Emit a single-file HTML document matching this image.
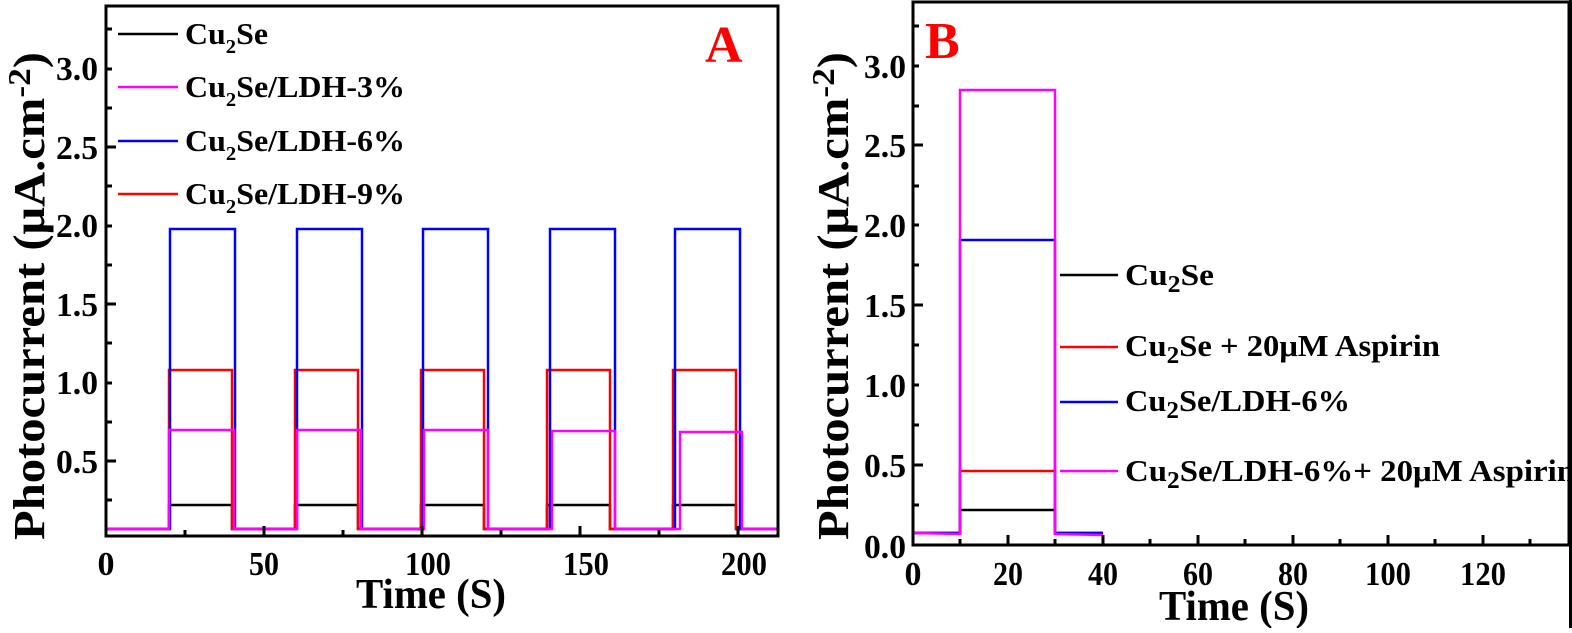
<!DOCTYPE html>
<html><head><meta charset="utf-8"><style>
html,body{margin:0;padding:0;background:#fff;}
svg text{font-family:"Liberation Serif","Times New Roman","DejaVu Serif",serif;font-weight:bold;}
</style></head><body>
<svg width="1572" height="628" viewBox="0 0 1572 628" xmlns="http://www.w3.org/2000/svg" font-family="Liberation Serif, DejaVu Serif, serif" font-weight="bold">
<!-- Panel A -->
<g fill="none" stroke-width="2.5">
<polyline stroke="#000" points="106,529 169,529 169,505 232,505 232,529 295,529 295,505 358,505 358,529 421,529 421,505 484,505 484,529 547,529 547,505 610,505 610,529 673,529 673,505 736,505 736,529 778,529"/>
<polyline stroke="#ff0000" points="106,529 169,529 169,370 232,370 232,529 295,529 295,370 358,370 358,529 421,529 421,370 484,370 484,529 547,529 547,370 610,370 610,529 673,529 673,370 736,370 736,529 778,529"/>
<polyline stroke="#0000ff" points="106,529 170,529 170,229 235,229 235,529 297,529 297,229 362,229 362,529 423,529 423,229 488,229 488,529 550,529 550,229 615,229 615,529 675,529 675,229 740,229 740,529 778,529"/>
<polyline stroke="#ff00ff" points="106,529 169,529 169,430 234,430 234,529 297,529 297,430 361,430 361,529 424,529 424,430 488,430 488,529 552,529 552,431 615,431 615,529 680,529 680,432 742,432 742,529 778,529"/>
</g>
<rect x="106" y="6" width="672" height="530" fill="none" stroke="#000" stroke-width="3"/>
<g stroke="#000" stroke-width="3">
<line x1="106" y1="461" x2="116" y2="461"/><line x1="106" y1="383" x2="112" y2="383"/><line x1="106" y1="304" x2="116" y2="304"/><line x1="106" y1="226" x2="112" y2="226"/><line x1="106" y1="147" x2="116" y2="147"/><line x1="106" y1="69" x2="112" y2="69"/><line x1="106" y1="500" x2="112" y2="500"/><line x1="106" y1="422" x2="112" y2="422"/><line x1="106" y1="343" x2="112" y2="343"/><line x1="106" y1="265" x2="112" y2="265"/><line x1="106" y1="186" x2="112" y2="186"/><line x1="106" y1="108" x2="112" y2="108"/><line x1="106" y1="29" x2="112" y2="29"/>
<line x1="185" y1="536" x2="185" y2="530"/><line x1="264" y1="536" x2="264" y2="526"/><line x1="343" y1="536" x2="343" y2="530"/><line x1="422" y1="536" x2="422" y2="526"/><line x1="501" y1="536" x2="501" y2="530"/><line x1="580" y1="536" x2="580" y2="526"/><line x1="659" y1="536" x2="659" y2="530"/><line x1="738" y1="536" x2="738" y2="526"/>
</g>
<g font-size="34" text-anchor="end" fill="#000">
<text x="98" y="473" textLength="42" lengthAdjust="spacingAndGlyphs">0.5</text><text x="98" y="394" textLength="42" lengthAdjust="spacingAndGlyphs">1.0</text><text x="98" y="316" textLength="42" lengthAdjust="spacingAndGlyphs">1.5</text><text x="98" y="237" textLength="42" lengthAdjust="spacingAndGlyphs">2.0</text><text x="98" y="159" textLength="42" lengthAdjust="spacingAndGlyphs">2.5</text><text x="98" y="80" textLength="42" lengthAdjust="spacingAndGlyphs">3.0</text>
</g>
<g font-size="34" text-anchor="middle" fill="#000">
<text x="106" y="575">0</text><text x="264" y="575" textLength="30" lengthAdjust="spacingAndGlyphs">50</text><text x="428" y="575" textLength="46" lengthAdjust="spacingAndGlyphs">100</text><text x="586" y="575" textLength="46" lengthAdjust="spacingAndGlyphs">150</text><text x="744" y="575" textLength="46" lengthAdjust="spacingAndGlyphs">200</text>
</g>
<text x="356" y="608" font-size="42" textLength="150" lengthAdjust="spacingAndGlyphs">Time (S)</text>
<text transform="translate(44,540) rotate(-90)" font-size="44" textLength="488" lengthAdjust="spacingAndGlyphs">Photocurrent (μA.cm<tspan dy="-14" font-size="32">-2</tspan><tspan dy="14">)</tspan></text>
<text x="705" y="62" font-size="52" fill="#ff0000">A</text>
<g stroke-width="2.5">
<line x1="118" y1="34" x2="178" y2="34" stroke="#000"/>
<line x1="118" y1="87" x2="178" y2="87" stroke="#ff00ff"/>
<line x1="118" y1="141" x2="178" y2="141" stroke="#0000ff"/>
<line x1="118" y1="194" x2="178" y2="194" stroke="#ff0000"/>
</g>
<g font-size="31" fill="#000">
<text x="185" y="44" textLength="83" lengthAdjust="spacingAndGlyphs">Cu<tspan font-size="20" dy="9">2</tspan><tspan dy="-9">Se</tspan></text>
<text x="185" y="97" textLength="220" lengthAdjust="spacingAndGlyphs">Cu<tspan font-size="20" dy="9">2</tspan><tspan dy="-9">Se/LDH-3%</tspan></text>
<text x="185" y="151" textLength="220" lengthAdjust="spacingAndGlyphs">Cu<tspan font-size="20" dy="9">2</tspan><tspan dy="-9">Se/LDH-6%</tspan></text>
<text x="185" y="204" textLength="220" lengthAdjust="spacingAndGlyphs">Cu<tspan font-size="20" dy="9">2</tspan><tspan dy="-9">Se/LDH-9%</tspan></text>
</g>
<!-- Panel B -->
<g fill="none" stroke-width="2.5">
<polyline stroke="#000" points="913,533 960,533 960,510 1055,510 1055,533 1103,533"/>
<polyline stroke="#ff0000" points="913,533 960,533 960,471 1055,471 1055,533 1103,533"/>
<polyline stroke="#0000ff" points="913,533 960,533 960,240 1055,240 1055,533 1103,533"/>
<polyline stroke="#ff00ff" points="913,533 960,534 960,90 1055,90 1055,534 1103,535"/>
</g>
<rect x="913" y="2" width="656" height="543" fill="none" stroke="#000" stroke-width="3"/>
<g stroke="#000" stroke-width="3">
<line x1="913" y1="465" x2="923" y2="465"/><line x1="913" y1="385" x2="919" y2="385"/><line x1="913" y1="305" x2="923" y2="305"/><line x1="913" y1="225" x2="919" y2="225"/><line x1="913" y1="145" x2="923" y2="145"/><line x1="913" y1="66" x2="919" y2="66"/><line x1="913" y1="505" x2="919" y2="505"/><line x1="913" y1="425" x2="919" y2="425"/><line x1="913" y1="345" x2="919" y2="345"/><line x1="913" y1="265" x2="919" y2="265"/><line x1="913" y1="186" x2="919" y2="186"/><line x1="913" y1="106" x2="919" y2="106"/><line x1="913" y1="26" x2="919" y2="26"/>
<line x1="960" y1="545" x2="960" y2="539"/><line x1="1008" y1="545" x2="1008" y2="535"/><line x1="1055" y1="545" x2="1055" y2="539"/><line x1="1103" y1="545" x2="1103" y2="535"/><line x1="1150" y1="545" x2="1150" y2="539"/><line x1="1198" y1="545" x2="1198" y2="535"/><line x1="1245" y1="545" x2="1245" y2="539"/><line x1="1293" y1="545" x2="1293" y2="535"/><line x1="1340" y1="545" x2="1340" y2="539"/><line x1="1388" y1="545" x2="1388" y2="535"/><line x1="1435" y1="545" x2="1435" y2="539"/><line x1="1483" y1="545" x2="1483" y2="535"/><line x1="1530" y1="545" x2="1530" y2="539"/>
</g>
<g font-size="34" text-anchor="end" fill="#000">
<text x="906" y="558" textLength="42" lengthAdjust="spacingAndGlyphs">0.0</text><text x="906" y="477" textLength="42" lengthAdjust="spacingAndGlyphs">0.5</text><text x="906" y="397" textLength="42" lengthAdjust="spacingAndGlyphs">1.0</text><text x="906" y="317" textLength="42" lengthAdjust="spacingAndGlyphs">1.5</text><text x="906" y="237" textLength="42" lengthAdjust="spacingAndGlyphs">2.0</text><text x="906" y="157" textLength="42" lengthAdjust="spacingAndGlyphs">2.5</text><text x="906" y="78" textLength="42" lengthAdjust="spacingAndGlyphs">3.0</text>
</g>
<g font-size="34" text-anchor="middle" fill="#000">
<text x="913" y="585">0</text><text x="1008" y="585" textLength="30" lengthAdjust="spacingAndGlyphs">20</text><text x="1103" y="585" textLength="30" lengthAdjust="spacingAndGlyphs">40</text><text x="1198" y="585" textLength="30" lengthAdjust="spacingAndGlyphs">60</text><text x="1293" y="585" textLength="30" lengthAdjust="spacingAndGlyphs">80</text><text x="1388" y="585" textLength="46" lengthAdjust="spacingAndGlyphs">100</text><text x="1483" y="585" textLength="46" lengthAdjust="spacingAndGlyphs">120</text>
</g>
<text x="1159" y="620" font-size="42" textLength="150" lengthAdjust="spacingAndGlyphs">Time (S)</text>
<text transform="translate(848,540) rotate(-90)" font-size="44" textLength="488" lengthAdjust="spacingAndGlyphs">Photocurrent (μA.cm<tspan dy="-14" font-size="32">-2</tspan><tspan dy="14">)</tspan></text>
<text x="925" y="58" font-size="52" fill="#ff0000">B</text>
<g stroke-width="2.5">
<line x1="1060" y1="275" x2="1118" y2="275" stroke="#000"/>
<line x1="1060" y1="347" x2="1118" y2="347" stroke="#ff0000"/>
<line x1="1060" y1="402" x2="1118" y2="402" stroke="#0000ff"/>
<line x1="1060" y1="471" x2="1118" y2="471" stroke="#ff00ff"/>
</g>
<g font-size="31" fill="#000">
<text x="1125" y="285" textLength="89" lengthAdjust="spacingAndGlyphs">Cu<tspan font-size="24" dy="7">2</tspan><tspan dy="-7">Se</tspan></text>
<text x="1125" y="356" textLength="315" lengthAdjust="spacingAndGlyphs">Cu<tspan font-size="24" dy="7">2</tspan><tspan dy="-7">Se + 20μM Aspirin</tspan></text>
<text x="1125" y="411" textLength="225" lengthAdjust="spacingAndGlyphs">Cu<tspan font-size="24" dy="7">2</tspan><tspan dy="-7">Se/LDH-6%</tspan></text>
<text x="1125" y="481" textLength="450" lengthAdjust="spacingAndGlyphs">Cu<tspan font-size="24" dy="7">2</tspan><tspan dy="-7">Se/LDH-6%+ 20μM Aspirin</tspan></text>
</g>
<rect x="1569" y="0" width="3" height="628" fill="#000"/>
</svg>
</body></html>
